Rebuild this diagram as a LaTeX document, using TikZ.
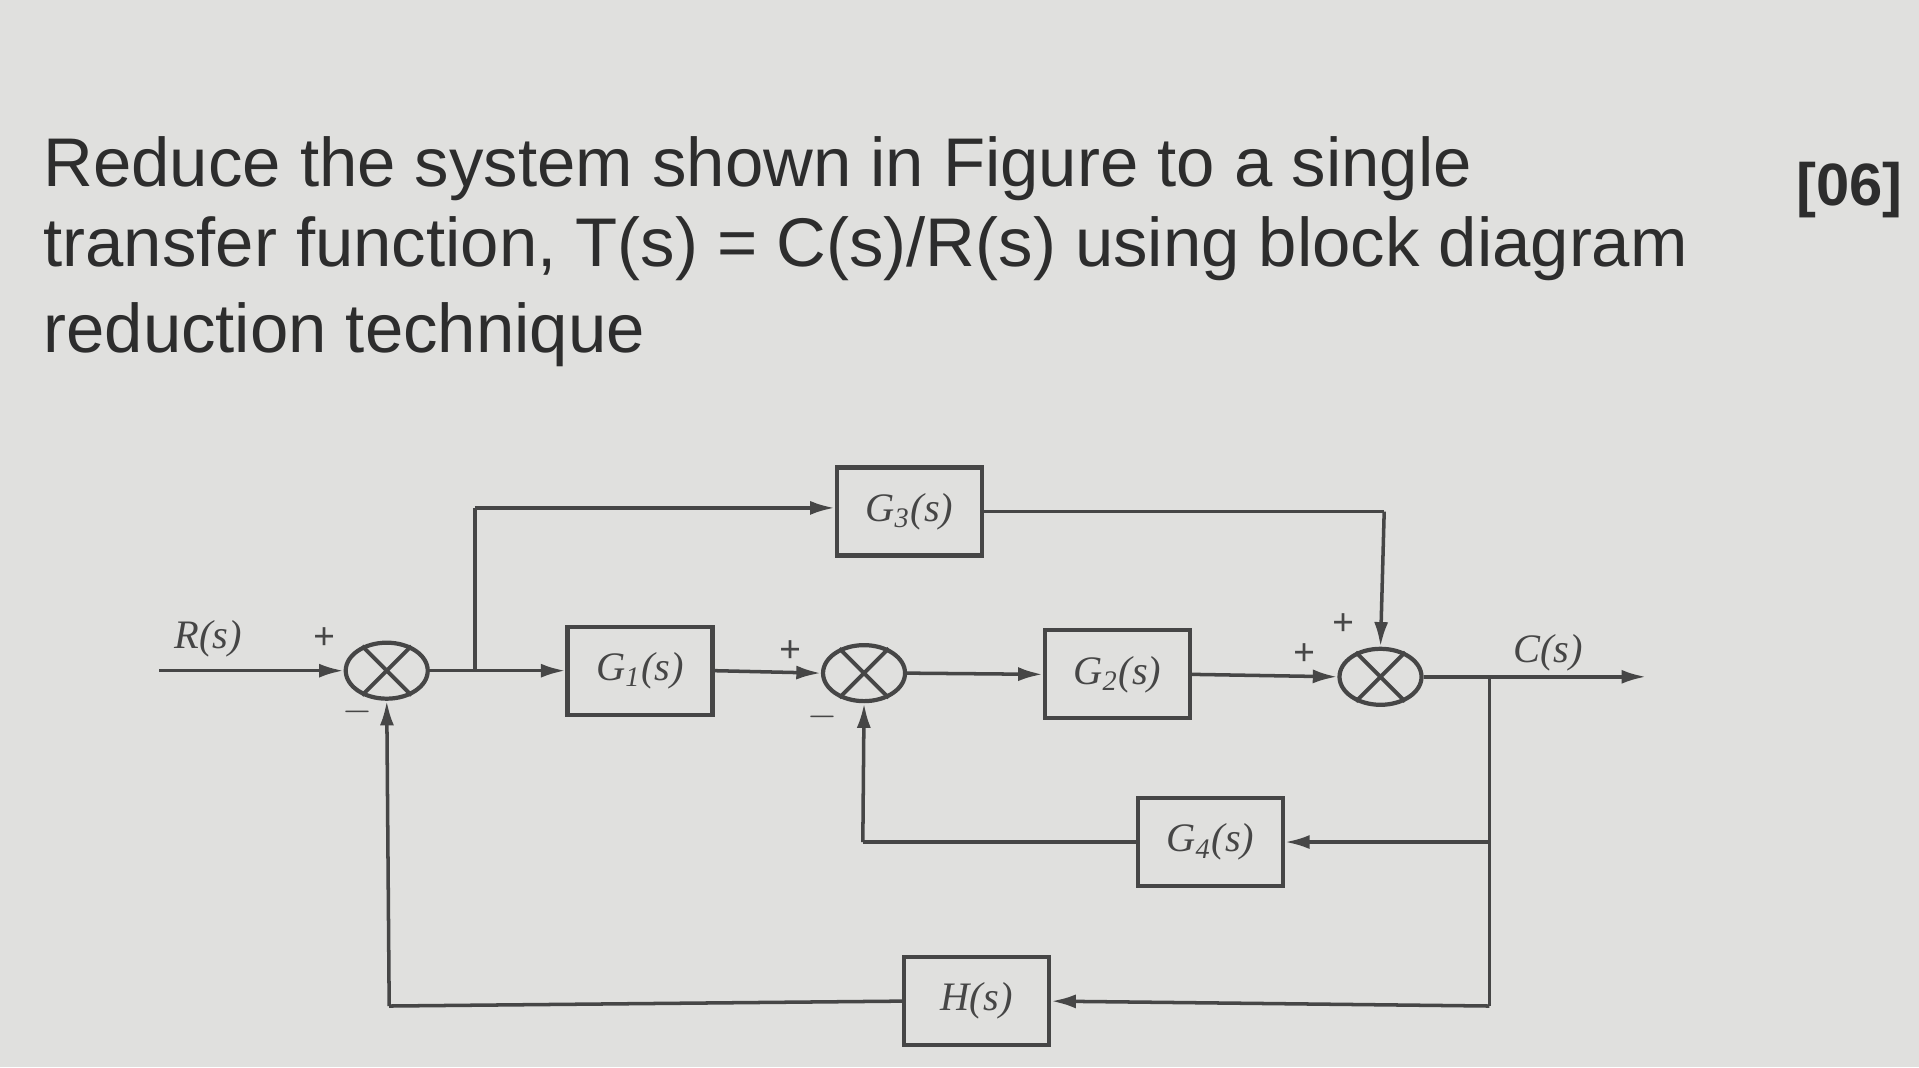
\documentclass[tikz,border=0pt]{standalone}
\usepackage{fontspec}
\setmainfont{Liberation Serif}
\newfontfamily\hd{Liberation Sans}
\usetikzlibrary{shapes.geometric,arrows.meta}
\definecolor{bg}{RGB}{224,224,222}
\definecolor{ink}{RGB}{45,45,45}
\definecolor{ln}{RGB}{70,70,70}
\begin{document}
\begin{tikzpicture}[x=0.01224cm,y=-0.01224cm,
  blk/.style={draw=ln,line width=1.2pt,minimum width=1.45cm,minimum height=0.88cm,inner sep=0pt,font=\fontsize{11.5}{12}\selectfont\itshape,text=ln},
  sumj/.style={draw=ln,line width=1.2pt,ellipse,minimum width=0.82cm,minimum height=0.56cm,inner sep=0pt},
  wire/.style={draw=ln,line width=1pt},
  arr/.style={wire,-{Latex[length=7pt,width=4pt]}},
  sg/.style={font=\fontsize{11}{11}\selectfont\bfseries,text=ln},
  lab/.style={font=\fontsize{11.5}{12}\selectfont\itshape,text=ln},
  hdl/.style={anchor=base west,inner sep=0pt,text=ink,font=\hd\fontsize{19.6}{22}\selectfont}]
\fill[bg] (0,0) rectangle (1568,872);
\useasboundingbox (0,0) rectangle (1568,872);
\node[hdl] (t1) at (35,152) {Reduce the system shown in Figure to a single};
\node[hdl] (t2) at (35,218) {transfer function, T(s) = C(s)/R(s) using block diagram};
\node[hdl] (t3) at (35,288) {reduction technique};
\node[anchor=base east,inner sep=0pt,text=ink,font=\hd\bfseries\fontsize{17}{20}\selectfont] (mk) at (1555,168) {[06]};

\node[sumj] (s1) at (316,548) {};
\node[sumj] (s2) at (706,550) {};
\node[sumj] (s3) at (1128,553) {};
\foreach \s in {s1,s2,s3}{
  \draw[ln,line width=1.1pt] (\s.45) -- (\s.225) (\s.135) -- (\s.315);}
\node[blk] (g1) at (523,548) {G\textsubscript{1}(s)};
\node[blk] (g2) at (913,551) {G\textsubscript{2}(s)};
\node[blk] (g3) at (743,418) {G\textsubscript{3}(s)};
\node[blk] (g4) at (989,688) {G\textsubscript{4}(s)};
\node[blk] (h) at (798,818) {H(s)};

\coordinate (rin) at (130,548);
\coordinate (b1) at (388,548);
\coordinate (bt) at (388,415);
\coordinate (g3r) at (1131,418);
\coordinate (b3) at (1217,553);
\coordinate (out) at (1345,553);
\coordinate (g4c) at (1217,688);
\coordinate (hc) at (1217,822);
\coordinate (g4l) at (705,688);
\coordinate (hl) at (318,822);

\node[lab] (rl) at (170,522) {R(s)};
\node[lab] (cl) at (1265,533) {C(s)};
\draw[arr] (rin) -- (s1.west);
\draw[arr] (s1.east) -- (g1.west);
\draw[wire] (b1) -- (bt);
\draw[arr] (bt) -- (g3.west |- bt);
\draw[wire] (g3.east) -- (g3r);
\draw[arr] (g3r) -- (s3.north);
\draw[arr] (g1.east) -- (s2.west);
\draw[arr] (s2.east) -- (g2.west);
\draw[arr] (g2.east) -- (s3.west);
\draw[arr] (s3.east) -- (out);
\draw[wire] (b3) -- (hc);
\draw[arr] (g4c) -- (g4.east);
\draw[arr] (hc) -- (h.east);
\draw[wire] (g4.west) -- (g4l);
\draw[arr] (g4l) -- (s2.south);
\draw[wire] (h.west) -- (hl);
\draw[arr] (hl) -- (s1.south);

\node[sg] (p1) at (265,522) {+};
\node[sg] (m1) at (292,582) {$-$};
\node[sg] (p2) at (646,532) {+};
\node[sg] (m2) at (672,586) {$-$};
\node[sg] (p3) at (1066,535) {+};
\node[sg] (p4) at (1098,510) {+};
\end{tikzpicture}
\end{document}
